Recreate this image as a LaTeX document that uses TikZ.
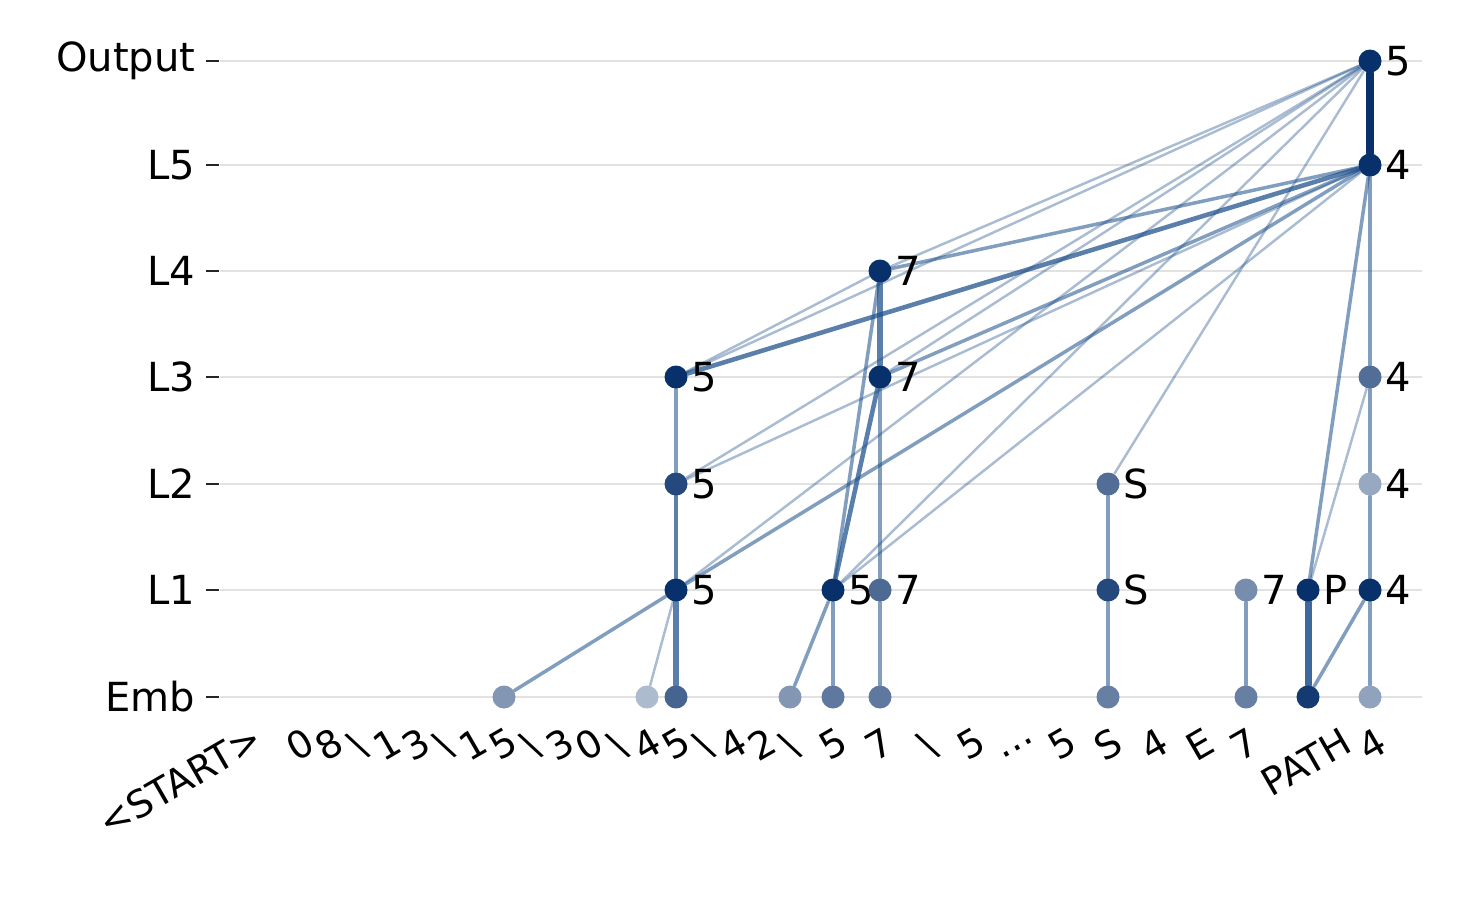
\documentclass[tikz,border=0pt]{standalone}
\usepackage{fontspec}
\setmainfont{DejaVu Sans}
\usepackage{xcolor}
\usetikzlibrary{backgrounds}

\definecolor{navy}{RGB}{8,48,107}
\definecolor{linkblue}{RGB}{28,78,138}
\definecolor{gridgray}{RGB}{226,226,226}

\begin{document}
\begin{tikzpicture}[
    x=0.1mm, y=-0.1mm,
    dot/.style={circle, fill=navy, inner sep=0pt, minimum size=2.3mm},
    nlbl/.style={font=\fontsize{11.4}{13}\selectfont, inner sep=0.6pt},
    toklbl/.style={font=\fontsize{10.8}{13}\selectfont, rotate=30, inner sep=0pt},
    axlbl/.style={font=\fontsize{11.4}{13}\selectfont, anchor=east, inner sep=0pt},
    lnk/.style={draw=linkblue, line width=0.7pt, draw opacity=0.38, line cap=round},
    lnkm/.style={lnk, line width=1.0pt, draw opacity=0.55},
    lnks/.style={lnk, line width=1.3pt, draw opacity=0.72},
    lnkx/.style={lnk, draw=navy, line width=2.5pt, draw opacity=1},
  ]
  \useasboundingbox (0,0) rectangle (1480,916);

  % === Axis: grid, ticks, layer names ===
  \begin{scope}[on background layer]
    \foreach \yy/\lname in {61/Output, 165/L5, 271/L4, 377/L3, 484/L2, 590/L1, 697/Emb} {
      \draw[gridgray, line width=0.6pt] (220,\yy) -- (1422,\yy);
      \draw[black!85, line width=0.6pt] (206,\yy) -- (219,\yy);
      \node[axlbl] (ax-\lname) at (196,\yy) {\lname};
    }
  \end{scope}

  % === Tokens ===
  \foreach \tx/\ty/\txt in {180/780/{<START>}, 300/744/0, 329/744/8, 358/746/\textbackslash,
      387/744/1, 416/744/3, 444/746/\textbackslash, 473/744/1, 503/744/5, 531/746/\textbackslash,
      560/744/3, 589/744/0, 618/746/\textbackslash, 647/744/4, 676/744/5, 704/746/\textbackslash,
      733/744/4, 762/744/2, 790/746/\textbackslash, 833/744/5, 879/744/7, 928/746/\textbackslash,
      971/744/5, 1018/748/…, 1062/744/5, 1108/744/S, 1154/744/4, 1200/744/E, 1244/744/7,
      1306/762/PATH, 1372/744/4}
    \node[toklbl] (tok-\tx) at (\tx,\ty) {\txt};

  % === Output / L5 / L4 ===
  \node[dot, label={[nlbl]right:5}] (out) at (1370,61) {};
  \node[dot, label={[nlbl]right:4}] (l5J) at (1370,165) {};
  \node[dot, label={[nlbl]right:7}] (l4F) at (880,271) {};

  % === L3 ===
  \node[dot, label={[nlbl]right:5}] (l3C) at (676,377) {};
  \node[dot, label={[nlbl]right:7}] (l3F) at (880,377) {};
  \node[dot, fill=navy!70, label={[nlbl]right:4}] (l3J) at (1370,377) {};

  % === L2 ===
  \node[dot, fill=navy!88, label={[nlbl]right:5}] (l2C) at (676,484) {};
  \node[dot, fill=navy!70, label={[nlbl]right:S}] (l2G) at (1108,484) {};
  \node[dot, fill=navy!42, label={[nlbl]right:4}] (l2J) at (1370,484) {};

  % === L1 ===
  \node[dot, label={[nlbl]right:5}] (l1C) at (676,590) {};
  \node[dot, label={[nlbl]right:5}] (l1E) at (833,590) {};
  \node[dot, fill=navy!72, label={[nlbl]right:7}] (l1F) at (880,590) {};
  \node[dot, fill=navy!88, label={[nlbl]right:S}] (l1G) at (1108,590) {};
  \node[dot, fill=navy!55, label={[nlbl]right:7}] (l1H) at (1246,590) {};
  \node[dot, label={[nlbl]right:P}] (l1I) at (1308,590) {};
  \node[dot, label={[nlbl]right:4}] (l1J) at (1370,590) {};

  % === Emb ===
  \node[dot, fill=navy!50] (embA) at (504,697) {};
  \node[dot, fill=navy!33] (embB) at (647,697) {};
  \node[dot, fill=navy!75] (embC) at (676,697) {};
  \node[dot, fill=navy!50] (embD) at (790,697) {};
  \node[dot, fill=navy!65] (embE) at (833,697) {};
  \node[dot, fill=navy!65] (embF) at (880,697) {};
  \node[dot, fill=navy!62] (embG) at (1108,697) {};
  \node[dot, fill=navy!62] (embH) at (1246,697) {};
  \node[dot, fill=navy!95] (embI) at (1308,697) {};
  \node[dot, fill=navy!45] (embJ) at (1370,697) {};

  \begin{scope}[on background layer]
    % into Output
    \draw[lnkx] (out) -- (l5J);
    \draw[lnk] (out) -- (l4F);
    \draw[lnk] (out) -- (l3C);
    \draw[lnk] (out) -- (l3F);
    \draw[lnk] (out) -- (l2C);
    \draw[lnk] (out) -- (l2G);
    \draw[lnk] (out) -- (l1C);
    \draw[lnk] (out) -- (l1E);

    % into L5
    \draw[lnkm] (l5J) -- (l4F);
    \draw[lnks] (l5J) -- (l3C);
    \draw[lnkm] (l5J) -- (l3F);
    \draw[lnk] (l5J) -- (l2C);
    \draw[lnkm] (l5J) -- (l1C);
    \draw[lnk] (l5J) -- (l1E);
    \draw[lnkm] (l5J) -- (l1I);
    \draw[lnkm] (l5J) -- (l3J);

    % into L4 / L3
    \draw[lnk] (l4F) -- (l3C);
    \draw[lnks, line width=1.7pt] (l4F) -- (l3F);
    \draw[lnkm] (l4F) -- (l1E);
    \draw[lnks] (l3F) -- (l1E);
    \draw[lnkm] (l3F) -- (l1F);
    \draw[lnkm] (l3C) -- (l2C);
    \draw[lnk] (l3J) -- (l1I);
    \draw[lnkm] (l3J) -- (l2J);

    % into L2 / L1
    \draw[lnks] (l2C) -- (l1C);
    \draw[lnkm] (l2G) -- (l1G);
    \draw[lnkm] (l2J) -- (l1J);
    \draw[lnkm] (l1C) -- (embA);
    \draw[lnk] (l1C) -- (embB);
    \draw[lnks, line width=1.7pt] (l1C) -- (embC);
    \draw[lnkm] (l1E) -- (embD);
    \draw[lnkm] (l1E) -- (embE);
    \draw[lnkm] (l1F) -- (embF);
    \draw[lnkm] (l1G) -- (embG);
    \draw[lnkm] (l1H) -- (embH);
    \draw[lnks, line width=2pt, draw opacity=0.85] (l1I) -- (embI);
    \draw[lnkm] (l1J) -- (embI);
    \draw[lnkm] (l1J) -- (embJ);
  \end{scope}

\end{tikzpicture}
\end{document}
